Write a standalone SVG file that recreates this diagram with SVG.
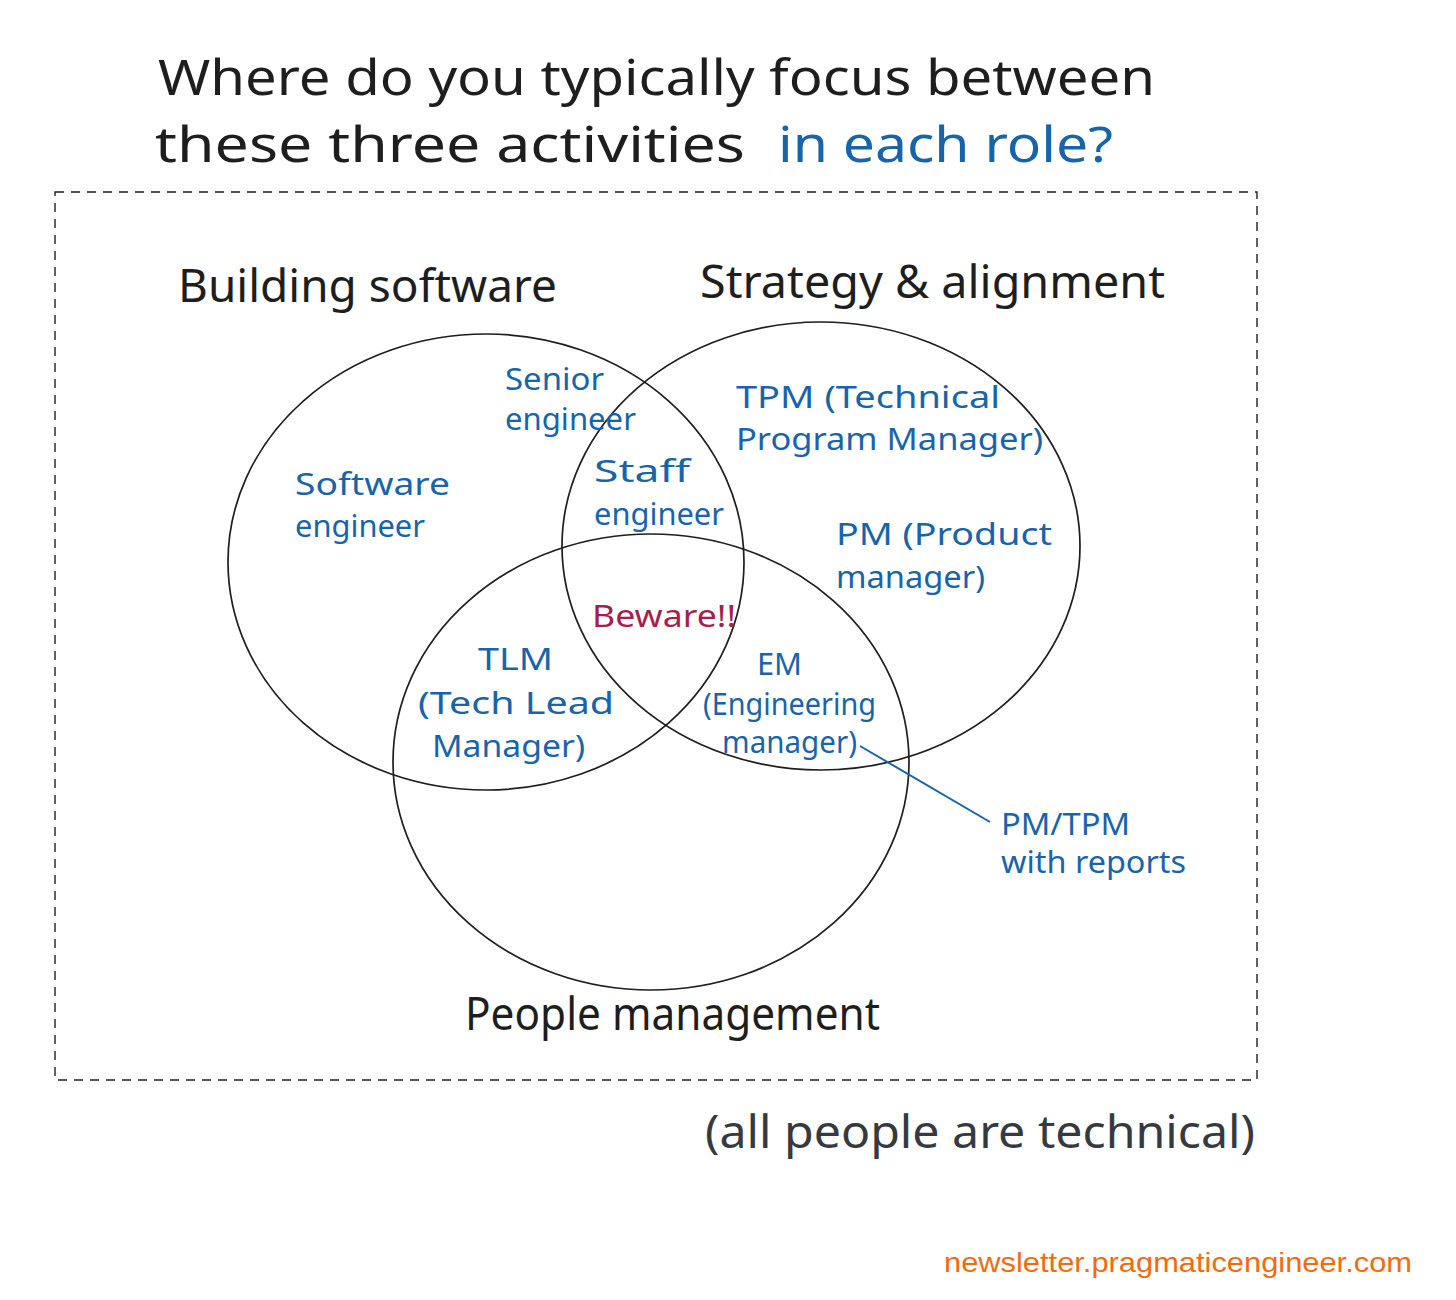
<svg xmlns="http://www.w3.org/2000/svg" width="1456" height="1300" viewBox="0 0 1456 1300">
<style>
.hand{font-family:"Noto Sans","DejaVu Sans",sans-serif;}
.dark{fill:#1e1e1e;font-size:46px;}
.title{fill:#1e1e1e;font-size:50px;}
.blue{fill:#1864ab;font-size:31px;}
.ring{fill:none;stroke:#1e1e1e;stroke-width:1.7;}
.frame{fill:none;stroke:#1e1e1e;stroke-width:1.4;stroke-dasharray:9 7;}
</style>
<rect width="1456" height="1300" fill="#ffffff"/>
<g id="title" class="hand">
<text class="title" x="158" y="95" textLength="997" lengthAdjust="spacingAndGlyphs">Where do you typically focus between</text>
<text class="title" x="155" y="162" textLength="590" lengthAdjust="spacingAndGlyphs">these three activities</text>
<text class="title" x="778" y="162" style="fill:#1864ab" textLength="335" lengthAdjust="spacingAndGlyphs">in each role?</text>
</g>
<g id="frame">
<rect class="frame" x="55" y="192" width="1202" height="888"/>
</g>
<g id="circle-building">
<ellipse class="ring" cx="486" cy="562" rx="258" ry="228"/>
</g>
<g id="circle-strategy">
<ellipse class="ring" cx="821" cy="546" rx="259" ry="224"/>
</g>
<g id="circle-people">
<ellipse class="ring" cx="651" cy="762" rx="258" ry="228"/>
</g>
<g id="label-building" class="hand"><text class="dark" x="178" y="302" textLength="379" lengthAdjust="spacingAndGlyphs">Building software</text></g>
<g id="label-strategy" class="hand"><text class="dark" x="700" y="298" textLength="465" lengthAdjust="spacingAndGlyphs">Strategy &amp; alignment</text></g>
<g id="label-people" class="hand"><text class="dark" x="465" y="1030" textLength="415" lengthAdjust="spacingAndGlyphs">People management</text></g>
<g id="note" class="hand"><text class="dark" x="705" y="1148" style="fill:#343a40" textLength="550" lengthAdjust="spacingAndGlyphs">(all people are technical)</text></g>
<g id="node-senior" class="hand">
<text class="blue" x="505" y="390" textLength="99" lengthAdjust="spacingAndGlyphs">Senior</text>
<text class="blue" x="505" y="430" textLength="131" lengthAdjust="spacingAndGlyphs">engineer</text>
</g>
<g id="node-software" class="hand">
<text class="blue" x="295" y="495" textLength="155" lengthAdjust="spacingAndGlyphs">Software</text>
<text class="blue" x="295" y="537" textLength="130" lengthAdjust="spacingAndGlyphs">engineer</text>
</g>
<g id="node-staff" class="hand">
<text class="blue" x="594" y="482" textLength="96" lengthAdjust="spacingAndGlyphs">Staff</text>
<text class="blue" x="594" y="525" textLength="130" lengthAdjust="spacingAndGlyphs">engineer</text>
</g>
<g id="node-tpm" class="hand">
<text class="blue" x="736" y="408" textLength="264" lengthAdjust="spacingAndGlyphs">TPM (Technical</text>
<text class="blue" x="736" y="450" textLength="307" lengthAdjust="spacingAndGlyphs">Program Manager)</text>
</g>
<g id="node-pm" class="hand">
<text class="blue" x="836" y="545" textLength="216" lengthAdjust="spacingAndGlyphs">PM (Product</text>
<text class="blue" x="836" y="588" textLength="149" lengthAdjust="spacingAndGlyphs">manager)</text>
</g>
<g id="node-beware" class="hand">
<text class="blue" x="592" y="627" style="fill:#a61e4d" textLength="144" lengthAdjust="spacingAndGlyphs">Beware!!</text>
</g>
<g id="node-tlm" class="hand">
<text class="blue" x="478" y="670" textLength="75" lengthAdjust="spacingAndGlyphs">TLM</text>
<text class="blue" x="418" y="714" textLength="196" lengthAdjust="spacingAndGlyphs">(Tech Lead</text>
<text class="blue" x="432" y="757" textLength="153" lengthAdjust="spacingAndGlyphs">Manager)</text>
</g>
<g id="node-em" class="hand">
<text class="blue" x="757" y="675" textLength="45" lengthAdjust="spacingAndGlyphs">EM</text>
<text class="blue" x="703" y="715" textLength="173" lengthAdjust="spacingAndGlyphs">(Engineering</text>
<text class="blue" x="722" y="753" textLength="135" lengthAdjust="spacingAndGlyphs">manager)</text>
</g>
<g id="node-pmtpm" class="hand">
<text class="blue" x="1001" y="835" textLength="129" lengthAdjust="spacingAndGlyphs">PM/TPM</text>
<text class="blue" x="1001" y="873" textLength="185" lengthAdjust="spacingAndGlyphs">with reports</text>
</g>
<g id="connectors">
<line x1="860" y1="746" x2="990" y2="822" stroke="#1864ab" stroke-width="2"/>
</g>
<g id="credit">
<text x="944" y="1272" font-family="'Liberation Sans',Arial,sans-serif" font-size="28" fill="#f26b0f" textLength="468" lengthAdjust="spacingAndGlyphs">newsletter.pragmaticengineer.com</text>
</g>
</svg>
